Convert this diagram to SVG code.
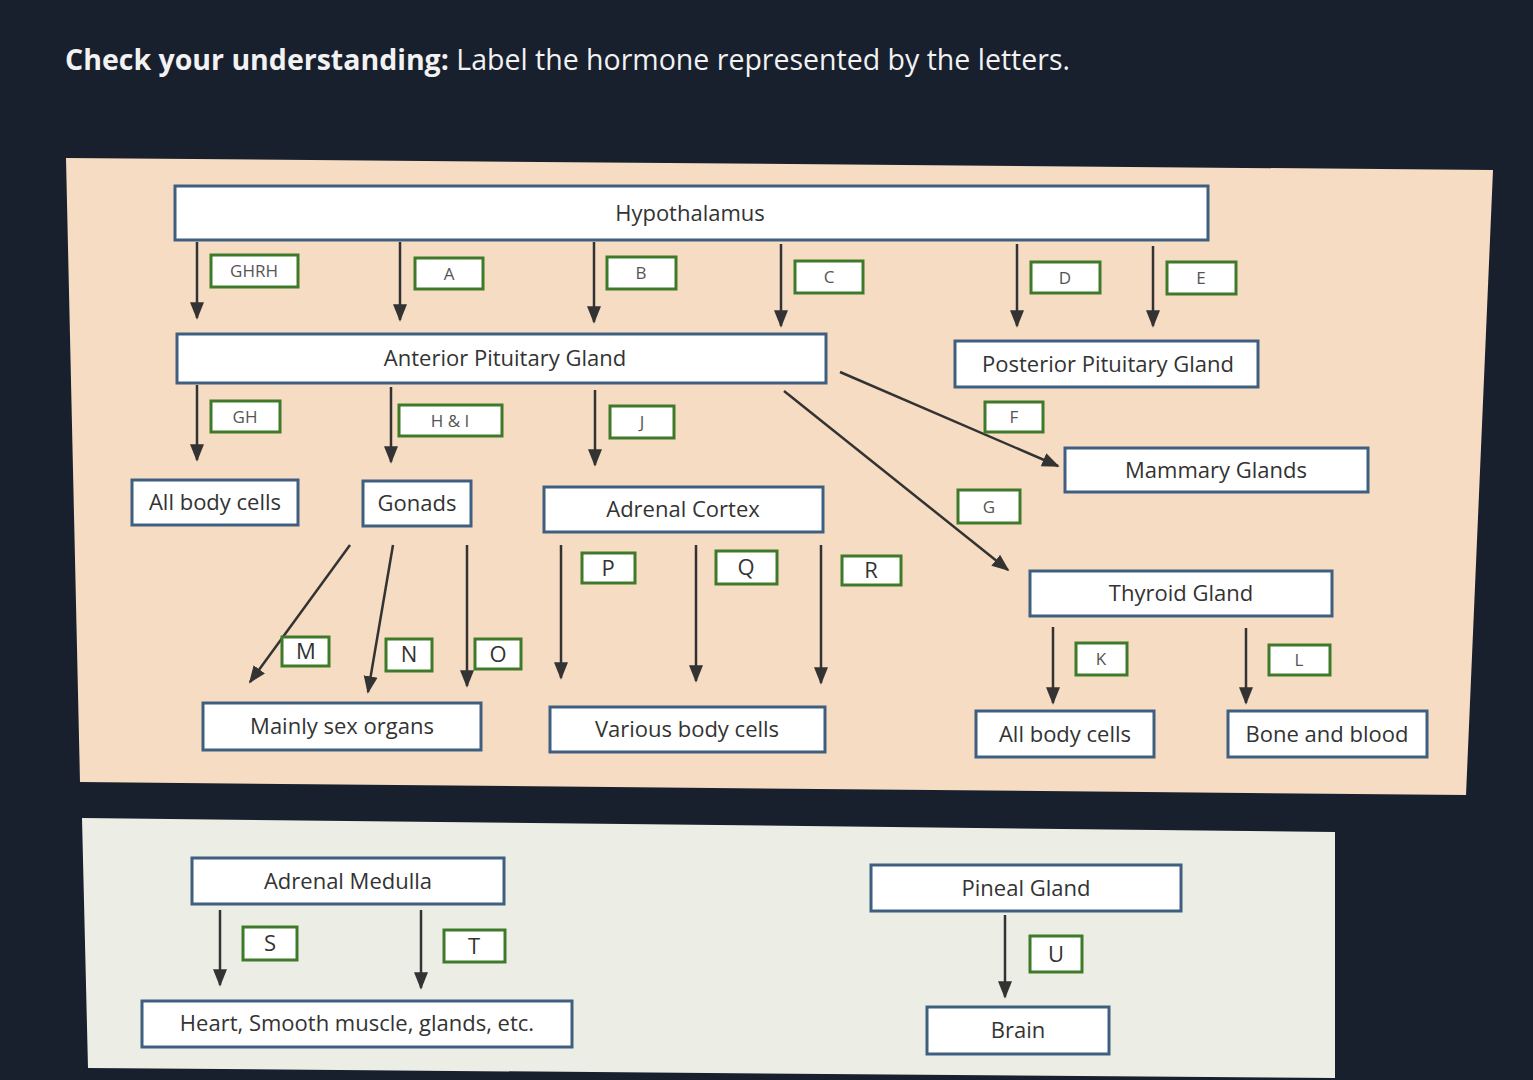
<svg xmlns="http://www.w3.org/2000/svg" width="1533" height="1080" viewBox="0 0 1533 1080">
<defs>
<marker id="ah" viewBox="0 0 10 10" refX="9" refY="5" markerWidth="7" markerHeight="7" orient="auto"><path d="M0,1 L10,5 L0,9 z" fill="#333"/></marker>
<style>
.n{fill:#fff;stroke:#3f5f80;stroke-width:3}
.l{fill:#fff;stroke:#3f7a2a;stroke-width:3}
.t{font-family:"Open Sans","Liberation Sans",sans-serif;font-size:22px;fill:#333;text-anchor:middle}
.s{font-family:"Open Sans","Liberation Sans",sans-serif;font-size:17px;fill:#555;text-anchor:middle}
.c{stroke:#333;stroke-width:2.5;fill:none;marker-end:url(#ah)}
</style>
</defs>
<rect width="1533" height="1080" fill="#18202e"/>
<text x="65" y="70" font-family="Open Sans,Liberation Sans,sans-serif" font-size="28.5" fill="#f2f2f2"><tspan font-weight="bold">Check your understanding:</tspan> Label the hormone represented by the letters.</text>
<polygon points="66,158 1493,170 1466,795 80,782" fill="#f6dcc3"/>
<polygon points="82,818 1335,832 1335,1078 88,1068" fill="#eceee6"/>
<g id="connectors">
<line class="c" x1="197" y1="242" x2="197" y2="318"/>
<line class="c" x1="400" y1="242" x2="400" y2="320"/>
<line class="c" x1="594" y1="242" x2="594" y2="322"/>
<line class="c" x1="781" y1="244" x2="781" y2="326"/>
<line class="c" x1="1017" y1="244" x2="1017" y2="326"/>
<line class="c" x1="1153" y1="246" x2="1153" y2="326"/>
<line class="c" x1="197" y1="385" x2="197" y2="460"/>
<line class="c" x1="391" y1="387" x2="391" y2="462"/>
<line class="c" x1="595" y1="390" x2="595" y2="465"/>
<line class="c" x1="840" y1="372" x2="1058" y2="466"/>
<line class="c" x1="784" y1="391" x2="1008" y2="570"/>
<line class="c" x1="350" y1="545" x2="250" y2="682"/>
<line class="c" x1="393" y1="545" x2="368" y2="692"/>
<line class="c" x1="467" y1="545" x2="467" y2="686"/>
<line class="c" x1="561" y1="545" x2="561" y2="678"/>
<line class="c" x1="696" y1="545" x2="696" y2="681"/>
<line class="c" x1="821" y1="545" x2="821" y2="683"/>
<line class="c" x1="1053" y1="627" x2="1053" y2="703"/>
<line class="c" x1="1246" y1="628" x2="1246" y2="703"/>
<line class="c" x1="220" y1="910" x2="220" y2="985"/>
<line class="c" x1="421" y1="910" x2="421" y2="988"/>
<line class="c" x1="1005" y1="915" x2="1005" y2="997"/>
</g>
<g id="hypothalamus"><rect class="n" x="175" y="186" width="1033" height="54"/><text class="t" x="690" y="221">Hypothalamus</text></g>
<g id="ant"><rect class="n" x="177" y="334" width="649" height="49"/><text class="t" x="505" y="366">Anterior Pituitary Gland</text></g>
<g id="post"><rect class="n" x="955" y="341" width="303" height="46"/><text class="t" x="1108" y="372">Posterior Pituitary Gland</text></g>
<g id="mammary"><rect class="n" x="1065" y="448" width="303" height="44"/><text class="t" x="1216" y="478">Mammary Glands</text></g>
<g id="allcells1"><rect class="n" x="132" y="480" width="166" height="45"/><text class="t" x="215" y="510">All body cells</text></g>
<g id="gonads"><rect class="n" x="363" y="481" width="108" height="45"/><text class="t" x="417" y="511">Gonads</text></g>
<g id="cortex"><rect class="n" x="544" y="487" width="279" height="45"/><text class="t" x="683" y="517">Adrenal Cortex</text></g>
<g id="thyroid"><rect class="n" x="1030" y="571" width="302" height="45"/><text class="t" x="1181" y="601">Thyroid Gland</text></g>
<g id="sex"><rect class="n" x="203" y="703" width="278" height="47"/><text class="t" x="342" y="734">Mainly sex organs</text></g>
<g id="various"><rect class="n" x="550" y="707" width="275" height="45"/><text class="t" x="687" y="737">Various body cells</text></g>
<g id="allcells2"><rect class="n" x="976" y="711" width="178" height="46"/><text class="t" x="1065" y="742">All body cells</text></g>
<g id="bone"><rect class="n" x="1228" y="711" width="199" height="46"/><text class="t" x="1327" y="742">Bone and blood</text></g>
<g id="medulla"><rect class="n" x="192" y="858" width="312" height="46"/><text class="t" x="348" y="889">Adrenal Medulla</text></g>
<g id="heart"><rect class="n" x="142" y="1001" width="430" height="46"/><text class="t" x="357" y="1031">Heart, Smooth muscle, glands, etc.</text></g>
<g id="pineal"><rect class="n" x="871" y="865" width="310" height="46"/><text class="t" x="1026" y="896">Pineal Gland</text></g>
<g id="brain"><rect class="n" x="927" y="1007" width="182" height="47"/><text class="t" x="1018" y="1038">Brain</text></g>
<g id="labels">
<rect class="l" x="211" y="255" width="87" height="32"/><text class="s" x="254" y="277">GHRH</text>
<rect class="l" x="415" y="258" width="68" height="31"/><text class="s" x="449" y="280">A</text>
<rect class="l" x="607" y="257" width="69" height="32"/><text class="s" x="641" y="279">B</text>
<rect class="l" x="795" y="261" width="68" height="32"/><text class="s" x="829" y="283">C</text>
<rect class="l" x="1031" y="262" width="69" height="31"/><text class="s" x="1065" y="284">D</text>
<rect class="l" x="1167" y="262" width="69" height="32"/><text class="s" x="1201" y="284">E</text>
<rect class="l" x="211" y="401" width="69" height="31"/><text class="s" x="245" y="423">GH</text>
<rect class="l" x="399" y="405" width="103" height="31"/><text class="s" x="450" y="427">H &amp; I</text>
<rect class="l" x="610" y="406" width="64" height="32"/><text class="s" x="642" y="428">J</text>
<rect class="l" x="985" y="402" width="58" height="30"/><text class="s" x="1014" y="423">F</text>
<rect class="l" x="958" y="490" width="62" height="33"/><text class="s" x="989" y="513">G</text>
<rect class="l" x="282" y="637" width="47" height="29"/><text class="t" x="306" y="659">M</text>
<rect class="l" x="386" y="639" width="46" height="32"/><text class="t" x="409" y="662">N</text>
<rect class="l" x="475" y="639" width="46" height="30"/><text class="t" x="498" y="662">O</text>
<rect class="l" x="582" y="553" width="53" height="30"/><text class="t" x="608" y="576">P</text>
<rect class="l" x="716" y="551" width="61" height="33"/><text class="t" x="746" y="575">Q</text>
<rect class="l" x="842" y="556" width="59" height="29"/><text class="t" x="871" y="578">R</text>
<rect class="l" x="1076" y="643" width="51" height="32"/><text class="s" x="1101" y="665">K</text>
<rect class="l" x="1269" y="645" width="61" height="30"/><text class="s" x="1299" y="666">L</text>
<rect class="l" x="243" y="927" width="54" height="33"/><text class="t" x="270" y="951">S</text>
<rect class="l" x="444" y="930" width="61" height="32"/><text class="t" x="474" y="954">T</text>
<rect class="l" x="1030" y="936" width="52" height="36"/><text class="t" x="1056" y="962">U</text>
</g>
</svg>
